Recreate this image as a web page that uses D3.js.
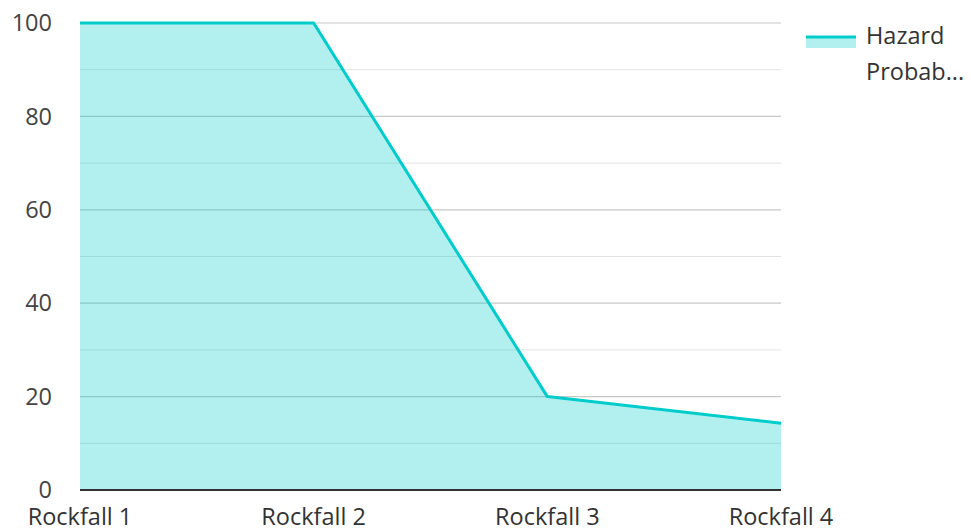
<!DOCTYPE html>
<html>
<head>
<meta charset="utf-8">
<script src="https://cdn.jsdelivr.net/npm/d3@7/dist/d3.min.js"></script>
<style>
  html, body { margin: 0; padding: 0; background: #fff; }
  svg { display: block; font-family: "Open Sans", "Noto Sans", sans-serif; }
</style>
</head>
<body>
<svg id="chart" width="971" height="531"></svg>
<script>
// Data
const categories = ["Rockfall 1", "Rockfall 2", "Rockfall 3", "Rockfall 4"];
const hazardValues = [100, 100, 20, 14.3];
const seriesName = "Hazard Probability";
const yTicks = [0, 20, 40, 60, 80, 100];
const yMinorTicks = [10, 30, 50, 70, 90];

const W = 971, H = 531;
const margin = { left: 80, right: 190, top: 23, bottom: 41 };
const svg = d3.select("#chart");

const x = d3.scalePoint().domain(categories).range([margin.left, W - margin.right]);
const y = d3.scaleLinear().domain([0, 100]).range([H - margin.bottom, margin.top]);

const lineColor = "#00cccc";
const fontSize = 23.5;

// Gridlines
const grid = svg.append("g");
grid.selectAll("line.minor").data(yMinorTicks).enter().append("line")
  .attr("x1", margin.left).attr("x2", W - margin.right)
  .attr("y1", d => y(d)).attr("y2", d => y(d))
  .attr("stroke", "#e3e3e3").attr("stroke-width", 1);
grid.selectAll("line.major").data(yTicks.filter(d => d > 0)).enter().append("line")
  .attr("x1", margin.left).attr("x2", W - margin.right)
  .attr("y1", d => y(d)).attr("y2", d => y(d))
  .attr("stroke", "#c8c8c8").attr("stroke-width", 1.2);

// Area + line
const pts = categories.map((c, i) => [x(c), y(hazardValues[i])]);
svg.append("path")
  .attr("d", d3.area().x(d => d[0]).y0(y(0)).y1(d => d[1])(pts))
  .attr("fill", lineColor).attr("fill-opacity", 0.3);
svg.append("path")
  .attr("d", d3.line()(pts))
  .attr("fill", "none").attr("stroke", lineColor).attr("stroke-width", 3)
  .attr("stroke-linejoin", "round");

// Baseline axis
svg.append("line")
  .attr("x1", margin.left).attr("x2", W - margin.right)
  .attr("y1", y(0)).attr("y2", y(0))
  .attr("stroke", "#333").attr("stroke-width", 2);

// Y labels
svg.append("g").selectAll("text").data(yTicks).enter().append("text")
  .attr("x", 52).attr("y", d => y(d)).attr("dy", "0.35em")
  .attr("text-anchor", "end").attr("font-size", fontSize).attr("fill", "#444")
  .text(d => d);

// X labels
svg.append("g").selectAll("text").data(categories).enter().append("text")
  .attr("x", d => x(d)).attr("y", 525)
  .attr("text-anchor", "middle").attr("font-size", fontSize).attr("fill", "#333")
  .text(d => d);

// Legend
const lg = svg.append("g");
lg.append("rect").attr("x", 806).attr("y", 37).attr("width", 50).attr("height", 11)
  .attr("fill", lineColor).attr("fill-opacity", 0.3);
lg.append("line").attr("x1", 806).attr("x2", 856).attr("y1", 37).attr("y2", 37)
  .attr("stroke", lineColor).attr("stroke-width", 3);
lg.append("text").attr("x", 866).attr("y", 44).attr("font-size", fontSize).attr("fill", "#333")
  .text(seriesName.split(" ")[0]);
lg.append("text").attr("x", 866).attr("y", 80).attr("font-size", fontSize).attr("fill", "#333")
  .text("Probab...");
</script>
</body>
</html>
